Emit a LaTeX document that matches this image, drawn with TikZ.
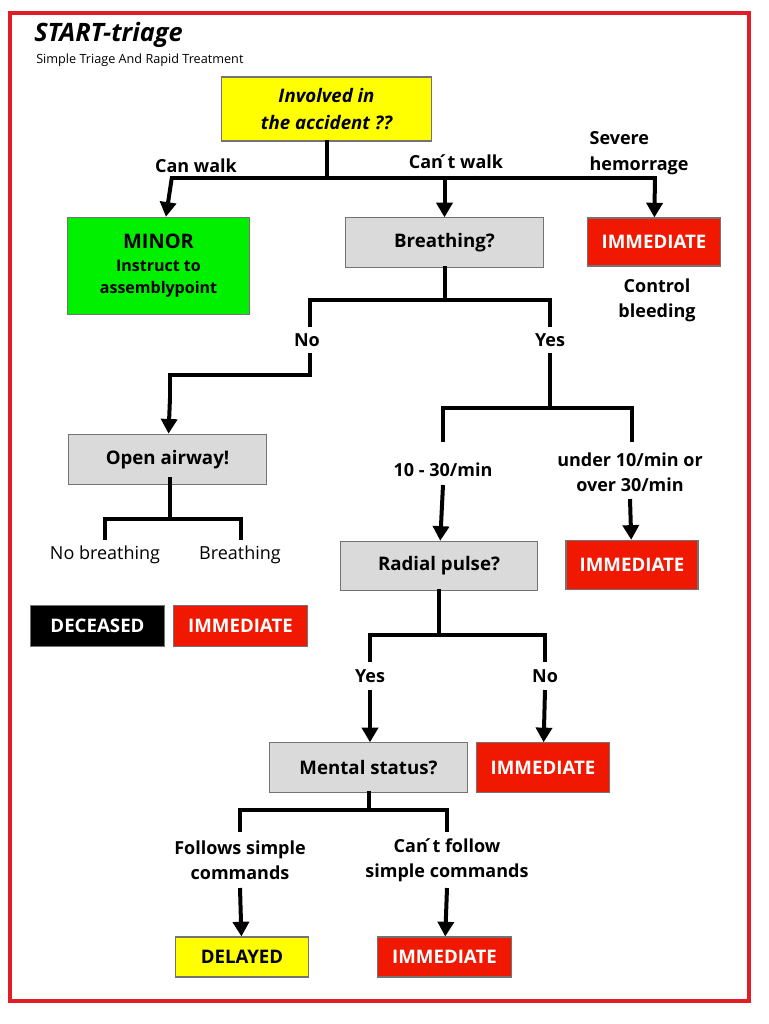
\documentclass[tikz,border=0pt]{standalone}
\usepackage{fontspec}
\setmainfont{Open Sans}
\usetikzlibrary{arrows.meta}
\tikzset{
  box/.style={draw=black!55, line width=0.8pt, font=\bfseries\fontsize{14}{17}\selectfont, inner sep=0pt, align=center},
  lbl/.style={font=\bfseries\fontsize{13.5}{19}\selectfont, align=center, inner sep=1pt},
  plain/.style={font=\fontsize{13.5}{19}\selectfont, align=center, inner sep=1pt},
  wire/.style={line width=3pt, line cap=rect},
  arr/.style={line width=3pt, -{Triangle[width=12pt,length=11pt]}}
}
\definecolor{imred}{RGB}{240,24,0}
\definecolor{mingreen}{RGB}{0,240,0}
\definecolor{yel}{RGB}{255,255,0}
\definecolor{gry}{RGB}{218,218,218}
\definecolor{frame}{RGB}{225,30,40}
\begin{document}
\begin{tikzpicture}[x=0.75pt,y=-0.75pt]
  \useasboundingbox (0,0) rectangle (768,1024);
  \draw[frame, line width=2.3pt] (10,13) rectangle (749,1001);
  % Title
  \node[anchor=west, font=\bfseries\itshape\fontsize{19}{22}\selectfont, inner sep=0pt] (title) at (34,35) {START-triage};
  \node[anchor=west, font=\fontsize{9.5}{11}\selectfont, inner sep=0pt] (sub) at (36,60) {Simple Triage And Rapid Treatment};
  % Boxes
  \node[box, fill=yel, minimum width=158pt, minimum height=48pt, font=\bfseries\itshape\fontsize{14}{20}\selectfont] (inv) at (326.5,109) {Involved in\\the accident ??};
  \node[box, fill=mingreen, minimum width=136pt, minimum height=73pt] (minor) at (158.5,266) {{\fontsize{15}{19}\selectfont MINOR}\\{\fontsize{12}{17}\selectfont Instruct to}\\{\fontsize{12}{17}\selectfont assemblypoint}};
  \node[box, fill=gry, minimum width=149pt, minimum height=37pt] (breath) at (444.5,242.5) {Breathing?};
  \node[box, fill=imred, text=white, minimum width=100pt, minimum height=36pt] (imm1) at (654,242) {IMMEDIATE};
  \node[box, fill=gry, minimum width=149pt, minimum height=38pt] (airway) at (167.5,459.5) {Open airway!};
  \node[box, fill=gry, minimum width=148pt, minimum height=37pt] (radial) at (439,566) {Radial pulse?};
  \node[box, fill=imred, text=white, minimum width=99pt, minimum height=37pt] (imm2) at (632,565) {IMMEDIATE};
  \node[box, fill=black, text=white, minimum width=101pt, minimum height=31pt] (dead) at (97.5,626) {DECEASED};
  \node[box, fill=imred, text=white, minimum width=100pt, minimum height=31pt] (imm3) at (240.5,626) {IMMEDIATE};
  \node[box, fill=gry, minimum width=149pt, minimum height=37pt] (mental) at (368.5,767.5) {Mental status?};
  \node[box, fill=imred, text=white, minimum width=100pt, minimum height=37pt] (imm4) at (543,767.5) {IMMEDIATE};
  \node[box, fill=yel, minimum width=100pt, minimum height=30pt] (delayed) at (242,957) {DELAYED};
  \node[box, fill=imred, text=white, minimum width=100pt, minimum height=30pt] (imm5) at (444.5,957) {IMMEDIATE};
  % Labels
  \node[lbl] (walk) at (196,166) {Can walk};
  \node[lbl] (nowalk) at (456,162) {Can\'{}t walk};
  \node[lbl, anchor=west, align=left] (sev) at (588,153) {Severe\\hemorrage};
  \node[lbl] (ctrl) at (657,300) {Control\\bleeding};
  \node[lbl] (bno) at (307,340) {No};
  \node[lbl] (byes) at (550,340) {Yes};
  \node[lbl] (rate1) at (443,470) {10 - 30/min};
  \node[lbl] (rate2) at (630,472) {under 10/min or\\over 30/min};
  \node[plain] (nob) at (105,555) {No breathing};
  \node[plain] (yesb) at (240,555) {Breathing};
  \node[lbl] (ryes) at (370,676) {Yes};
  \node[lbl] (rno) at (545,676) {No};
  \node[lbl] (fol) at (240,860) {Follows simple\\commands};
  \node[lbl] (nofol) at (447,860) {Can\'{}t follow\\simple commands};
  % Junctions
  \coordinate (j1) at (326.5,178);
  \coordinate (j2) at (444.5,300);
  \coordinate (j3) at (310,375);
  \coordinate (j4) at (550,408);
  \coordinate (j6) at (439,635);
  \coordinate (j7) at (368.5,810);
  % Top split
  \draw[wire] (inv) -- (j1);
  \draw[wire] (172,178) -- (655,178);
  \draw[arr] (172,176.5) -- (minor);
  \draw[arr] (444.5,176.5) -- (breath);
  \draw[arr] (655,176.5) -- (imm1);
  % Breathing split
  \draw[wire] (breath) -- (j2);
  \draw[wire] (310,325) -- (310,300) -- (550,300) -- (550,325);
  \draw[wire] (310,355) |- (j3) -| (170,400);
  \draw[arr] (170,398) -- (airway);
  \draw[wire] (550,355) -- (j4);
  \draw[wire] (443,440) -- (443,408) -- (632,408) -- (632,440);
  \draw[arr] (443,485) -- (radial);
  \draw[arr] (630,499) -- (imm2);
  % Airway split
  \draw[wire] (170,478.5) -- (170,519);
  \draw[wire] (105,538) -- (105,519) -- (241,519) -- (241,538);
  % Radial split
  \draw[wire] (radial) -- (j6);
  \draw[wire] (370,660) -- (370,635) -- (545,635) -- (545,660);
  \draw[arr] (370,690) -- (ryes |- mental.north);
  \draw[arr] (545,690) -- (imm4);
  % Mental split
  \draw[wire] (mental) -- (j7);
  \draw[wire] (240,830) -- (240,810) -- (447,810) -- (447,830);
  \draw[arr] (240,888) -- (delayed);
  \draw[arr] (447,888) -- (imm5);
\end{tikzpicture}
\end{document}
